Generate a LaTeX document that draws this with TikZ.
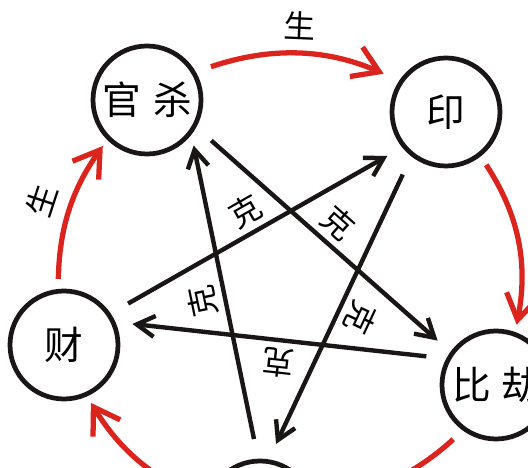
\documentclass[tikz,border=0pt]{standalone}
\usepackage{fontspec}
\newfontfamily\cjk{Noto Sans CJK SC}
\usetikzlibrary{arrows.meta}
\definecolor{sRed}{RGB}{220,36,31}
\definecolor{kBlk}{RGB}{26,22,22}

\begin{document}
\begin{tikzpicture}[font=\cjk,
  el/.style={circle,draw=kBlk,line width=2.7pt,minimum size=2.16cm,inner sep=0pt,font=\cjk\fontsize{22}{24}\selectfont},
  sg/.style={-{Straight Barb[length=5mm,width=6.4mm]},line width=3pt,sRed,shorten <=2mm,shorten >=1.5mm},
  kz/.style={-{Straight Barb[length=3.6mm,width=4.2mm]},line width=2.5pt,kBlk,shorten <=4mm,shorten >=3.4mm},
  lab/.style={midway,above,sloped,allow upside down,text=black,font=\cjk\fontsize{18}{19}\selectfont}]
  \useasboundingbox (0,0) rectangle (10.56,-9.36);
  \clip (0,0) rectangle (10.56,-9.36);
  \node[el] (gs) at (2.94,-2.00) {官\hspace{7pt}杀};
  \node[el] (yin) at (8.92,-2.24) {印};
  \node[el] (bj) at (9.92,-7.70) {比\hspace{6pt}劫};
  \node[el] (cai) at (1.28,-6.90) {财};
  \node[el] (ss) at (5.20,-10.30) {};
  % sheng
  \draw[sg,shorten <=3.2mm,shorten >=3.4mm] (gs.30) to[bend left=21] node[lab,above=4pt]{生} (yin.146);
  \draw[sg] (yin.-52) to[bend left=22] (bj.70);
  \draw[sg,shorten <=2.6mm] (bj.-126) to[bend left=17] (ss.15);
  \draw[sg] (ss.165) to[bend left=17] (cai.-66);
  \draw[sg] (cai.96) to[bend left=17] node[lab,above=4pt]{生} (gs.-135);
  % ke
  \draw[kz] (gs.-29) -- node[lab]{克} (bj.144);
  \draw[kz] (bj.152) -- node[lab]{克} (cai.24);
  \draw[kz] (cai.34) -- node[lab]{克} (yin.-141);
  \draw[kz] (yin.-128) -- node[lab]{克} (ss.81);
  \draw[kz,shorten >=2.2mm] (ss.92) -- node[lab]{克} (gs.-38);
\end{tikzpicture}
\end{document}
